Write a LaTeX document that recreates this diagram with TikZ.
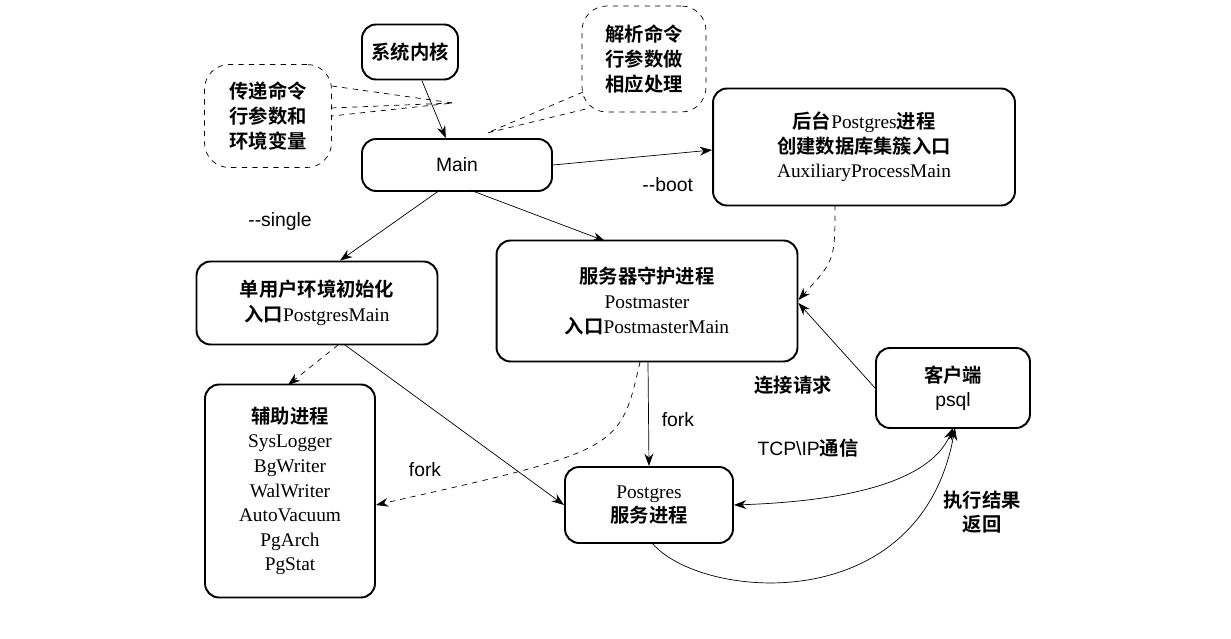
\documentclass[tikz,border=0pt]{standalone}
\usepackage{fontspec}
\setmainfont{Liberation Serif}
\newfontfamily\cjk{Noto Sans CJK SC}[BoldFont={Noto Sans CJK SC Bold}]
\newfontfamily\sans{Liberation Sans}
\newcommand{\zh}[1]{{\cjk\bfseries #1}}
\usetikzlibrary{arrows.meta}
\begin{document}
\begin{tikzpicture}[x=0.02cm,y=-0.02cm,
  box/.style={draw,line width=1.1pt,rounded corners=8pt,align=center,font=\fontsize{11}{14}\selectfont,inner sep=0pt},
  call/.style={draw,dashed,rounded corners=14pt,align=center,font=\fontsize{11}{14}\selectfont,inner sep=0pt},
  arr/.style={-{Stealth[length=7pt,width=5pt]},thin},
  lab/.style={font=\fontsize{11}{14}\selectfont,align=center}]
\useasboundingbox (0,0) rectangle (1231,639);
\node[box,minimum width=96\pgflinewidth*0+1.92cm,minimum height=1.1cm] (k) at (410,52) {\zh{系统内核}};
\node[box,minimum width=3.8cm,minimum height=1.04cm] (m) at (457,165) {\sans Main};
\node[box,minimum width=6.04cm,minimum height=2.34cm] (b) at (864,147) {\zh{后台}Postgres\zh{进程}\\\zh{创建数据库集簇入口}\\（AuxiliaryProcessMain）};
\node[box,minimum width=4.82cm,minimum height=1.66cm] (s) at (317,303) {\zh{单用户环境初始化}\\（\zh{入口}PostgresMain）};
\node[box,minimum width=6.02cm,minimum height=2.42cm] (p) at (647,301) {\zh{服务器守护进程}\\Postmaster\\（\zh{入口}PostmasterMain）};
\node[box,minimum width=3.4cm,minimum height=4.26cm] (a) at (290,491) {\zh{辅助进程}\\SysLogger\\BgWriter\\WalWriter\\AutoVacuum\\PgArch\\PgStat};
\node[box,minimum width=3.36cm,minimum height=1.52cm] (g) at (649,505) {Postgres\\\zh{服务进程}};
\node[box,minimum width=3.08cm,minimum height=1.6cm] (c) at (953,388) {\zh{客户端}\\{\sans psql}};
\node[call,minimum width=2.54cm,minimum height=2.06cm] (cl) at (268,116) {\zh{传递命令}\\\zh{行参数和}\\\zh{环境变量}};
\node[call,minimum width=2.48cm,minimum height=2.12cm] (cr) at (644,59) {\zh{解析命令}\\\zh{行参数做}\\\zh{相应处理}};
\coordinate (t1) at (453,103);
\coordinate (t2) at (487,133);
\draw[dashed,thin] (cl.east) ++(0,-30) -- (t1) -- (cl.east) ++(0,-8);
\draw[dashed,thin] (331,108) -- (t1);
\draw[dashed,thin] (583,92) -- (t2) -- (590,108);
\draw[arr] (k) -- (m);
\draw[arr] (m.east) -- (b.west |- 0,150) node[lab,pos=0.5,below=8pt,xshift=20pt] {\sans --boot};
\draw[arr] (440,190) -- (s.north -| 340,0);
\node[lab] at (280,222) {\sans --single};
\draw[arr] (470,190) -- (605,241);
\draw[arr,dashed] (835,205) .. controls (835,260) .. (p.east |- 0,300);
\draw[arr,dashed] (338,345) -- (288,385);
\draw[arr] (345,345) -- (g.west |- 0,505);
\draw[arr] (648,362) -- (g.north) node[lab,pos=0.55,right=4pt] {\sans fork};
\draw[arr,dashed] (640,362) .. controls (620,450) .. (a.east |- 0,505);
\node[lab] at (425,470) {\sans fork};
\draw[arr] (c.west) -- (p.east |- 0,303);
\node[lab] at (793,385) {\zh{连接请求}};
\node[lab] at (808,448) {{\sans TCP\textbackslash IP}\zh{通信}};
\draw[{Stealth[length=7pt,width=5pt]}-{Stealth[length=7pt,width=5pt]},thin] (g.east) .. controls (880,500) and (935,470) .. (953,428);
\draw[arr] (652,543) .. controls (700,600) and (920,620) .. (955,428);
\node[lab] at (982,512) {\zh{执行结果}\\\zh{返回}};
\end{tikzpicture}
\end{document}
